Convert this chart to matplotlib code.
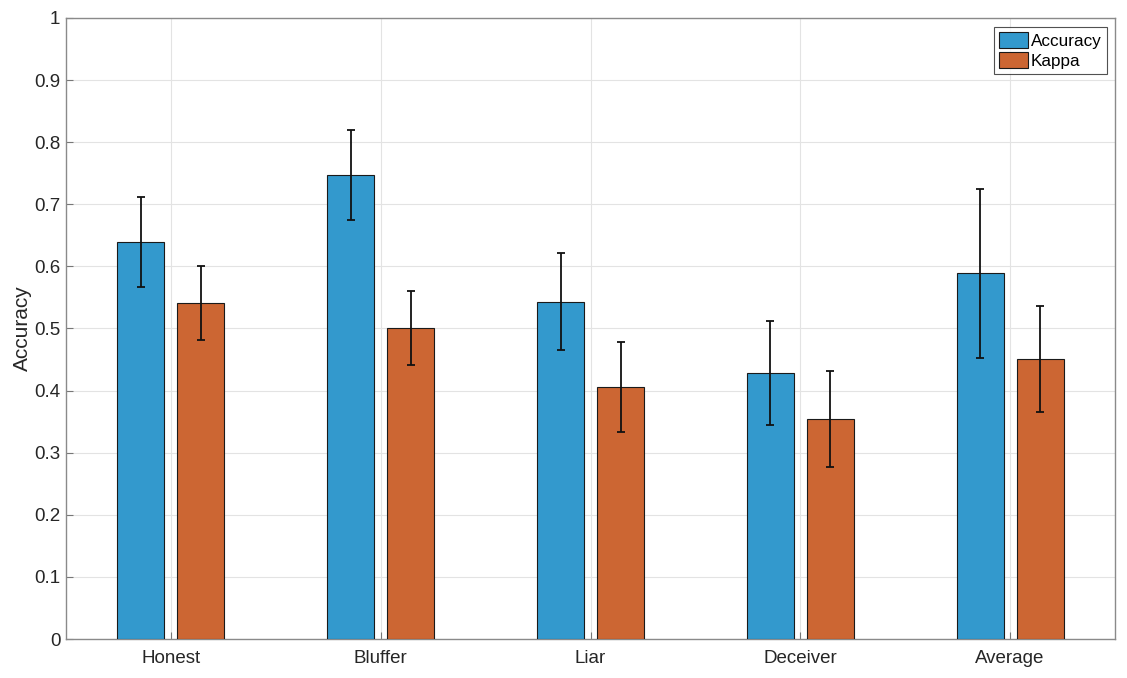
import matplotlib
matplotlib.use("Agg")
import matplotlib.pyplot as plt
import numpy as np

categories = ["Honest", "Bluffer", "Liar", "Deceiver", "Average"]
accuracy = [0.639, 0.747, 0.543, 0.428, 0.589]
accuracy_err = [0.072, 0.072, 0.078, 0.084, 0.136]
kappa = [0.541, 0.501, 0.406, 0.354, 0.451]
kappa_err = [0.060, 0.060, 0.072, 0.077, 0.085]
yticks = [0, 0.1, 0.2, 0.3, 0.4, 0.5, 0.6, 0.7, 0.8, 0.9, 1]
ytick_labels = ["0", "0.1", "0.2", "0.3", "0.4", "0.5", "0.6", "0.7", "0.8", "0.9", "1"]

plt.rcParams['font.family'] = ['Liberation Sans', 'DejaVu Sans']

fig = plt.figure(figsize=(11.27, 6.78), dpi=100)
ax = fig.add_axes([0.0586, 0.0575, 0.9308, 0.916])

x = np.arange(1, len(categories) + 1)
w = 0.224
off = 0.143
c_acc = "#3399CD"
c_kap = "#CC6633"
ax.bar(x - off, accuracy, w, color=c_acc, edgecolor="#1a1a1a", linewidth=0.8, label="Accuracy", zorder=3)
ax.bar(x + off, kappa, w, color=c_kap, edgecolor="#1a1a1a", linewidth=0.8, label="Kappa", zorder=3)
ax.errorbar(x - off, accuracy, yerr=accuracy_err, fmt="none", ecolor="#111111", elinewidth=1.3, capsize=3, capthick=1.3, zorder=4)
ax.errorbar(x + off, kappa, yerr=kappa_err, fmt="none", ecolor="#111111", elinewidth=1.3, capsize=3, capthick=1.3, zorder=4)

ax.set_xlim(0.5, 5.5)
ax.set_ylim(0, 1)
ax.set_xticks(x)
ax.set_xticklabels(categories, fontsize=13.5, color="#262626")
ax.set_yticks(yticks)
ax.set_yticklabels(ytick_labels, fontsize=13.5, color="#262626")
ax.set_ylabel("Accuracy", fontsize=15, color="#262626", labelpad=2)
ax.grid(True, color="#e3e3e3", linewidth=0.8, zorder=0)
ax.set_axisbelow(True)
ax.tick_params(direction="in", length=5, color="#777777", top=False, right=False, pad=4)
ax.tick_params(axis="x", pad=8)
for s in ax.spines.values():
    s.set_color("#8a8a8a")
    s.set_linewidth(1.0)

leg = ax.legend(loc="upper right", fontsize=12.3, frameon=True, fancybox=False,
                edgecolor="#262626", handlelength=1.7, handleheight=1.1,
                handletextpad=0.15, borderpad=0.3, labelspacing=0.2,
                borderaxespad=0.5)
leg.get_frame().set_linewidth(0.8)

fig.savefig("out.png", dpi=100)
